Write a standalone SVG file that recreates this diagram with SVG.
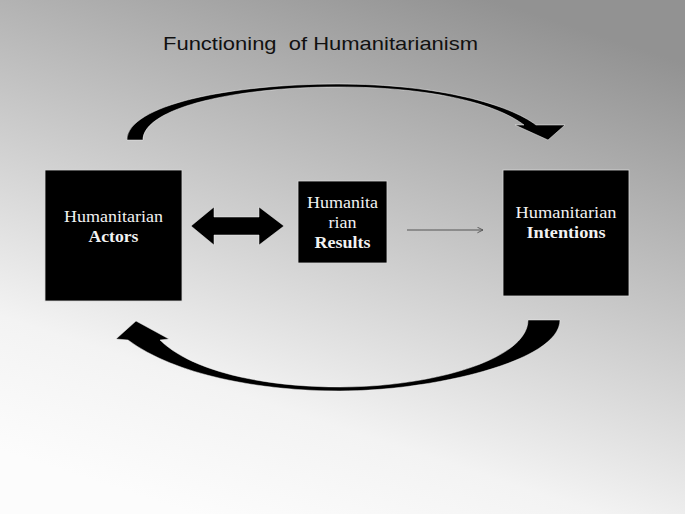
<svg xmlns="http://www.w3.org/2000/svg" width="685" height="514" viewBox="0 0 685 514">
<defs>
<linearGradient id="bg" x1="0.72" y1="0" x2="0.28" y2="1">
<stop offset="0" stop-color="#929292"/>
<stop offset="0.45" stop-color="#cacaca"/>
<stop offset="0.78" stop-color="#f3f3f3"/>
<stop offset="1" stop-color="#fcfcfc"/>
</linearGradient>
<marker id="thin" viewBox="0 0 10 10" refX="9" refY="5" markerWidth="7" markerHeight="7" markerUnits="userSpaceOnUse" orient="auto">
<path d="M1,1 L9,5 L1,9" fill="none" stroke="#555" stroke-width="1.3"/>
</marker>
</defs>
<style>
.box{fill:#000;stroke:#d8d8d8;stroke-width:0.8}
.lbl{font-family:"Liberation Serif","DejaVu Serif",serif;font-size:16.5px;fill:#f2f2f2;text-anchor:middle}
.b{font-weight:bold}
.shape{fill:#000;stroke:#f4f4f4;stroke-width:0.7;stroke-opacity:0.7}
</style>
<rect x="0" y="0" width="685" height="514" fill="url(#bg)"/>
<text x="163" y="50" font-family="Liberation Sans, Arial, sans-serif" font-size="19" fill="#111" textLength="315" lengthAdjust="spacingAndGlyphs" xml:space="preserve">Functioning  of Humanitarianism</text>
<g id="connectors">
<path id="top-arc" class="shape" d="M127,140 C127,105 230,84 338,84 C440,84 510,105 536,125 L565,125 L548,140 L515,125 L524,125 C495,103 430,87 338,87 C235,87 143,108 143,140 Z"/>
<path id="bottom-arc" class="shape" d="M128,340 C175,375 260,391 340,391 C430,391 560,362 560,320 L528,320 C528,360 430,387 340,387 C260,387 190,370 160,340 L169,339 L136,321 L116,339 Z"/>
<path id="double-arrow" class="shape" d="M191,226 L214,207 L214,217 L259,217 L259,207 L284,226 L259,245 L259,235 L214,235 L214,245 Z"/>
<line x1="407" y1="230" x2="483" y2="230" stroke="#555" stroke-width="1" marker-end="url(#thin)"/>
</g>
<g id="actors">
<rect class="box" x="45" y="170" width="137" height="131"/>
<text class="lbl" x="113.5" y="222" textLength="99" lengthAdjust="spacingAndGlyphs">Humanitarian</text>
<text class="lbl b" x="113.5" y="242" textLength="50" lengthAdjust="spacingAndGlyphs">Actors</text>
</g>
<g id="results">
<rect class="box" x="298" y="181" width="89" height="82"/>
<text class="lbl" x="342.5" y="208" textLength="71" lengthAdjust="spacingAndGlyphs">Humanita</text>
<text class="lbl" x="342.5" y="228" textLength="28" lengthAdjust="spacingAndGlyphs">rian</text>
<text class="lbl b" x="342.5" y="248" textLength="56" lengthAdjust="spacingAndGlyphs">Results</text>
</g>
<g id="intentions">
<rect class="box" x="503" y="170" width="126" height="126"/>
<text class="lbl" x="566" y="218" textLength="101" lengthAdjust="spacingAndGlyphs">Humanitarian</text>
<text class="lbl b" x="566" y="238" textLength="79" lengthAdjust="spacingAndGlyphs">Intentions</text>
</g>
</svg>
